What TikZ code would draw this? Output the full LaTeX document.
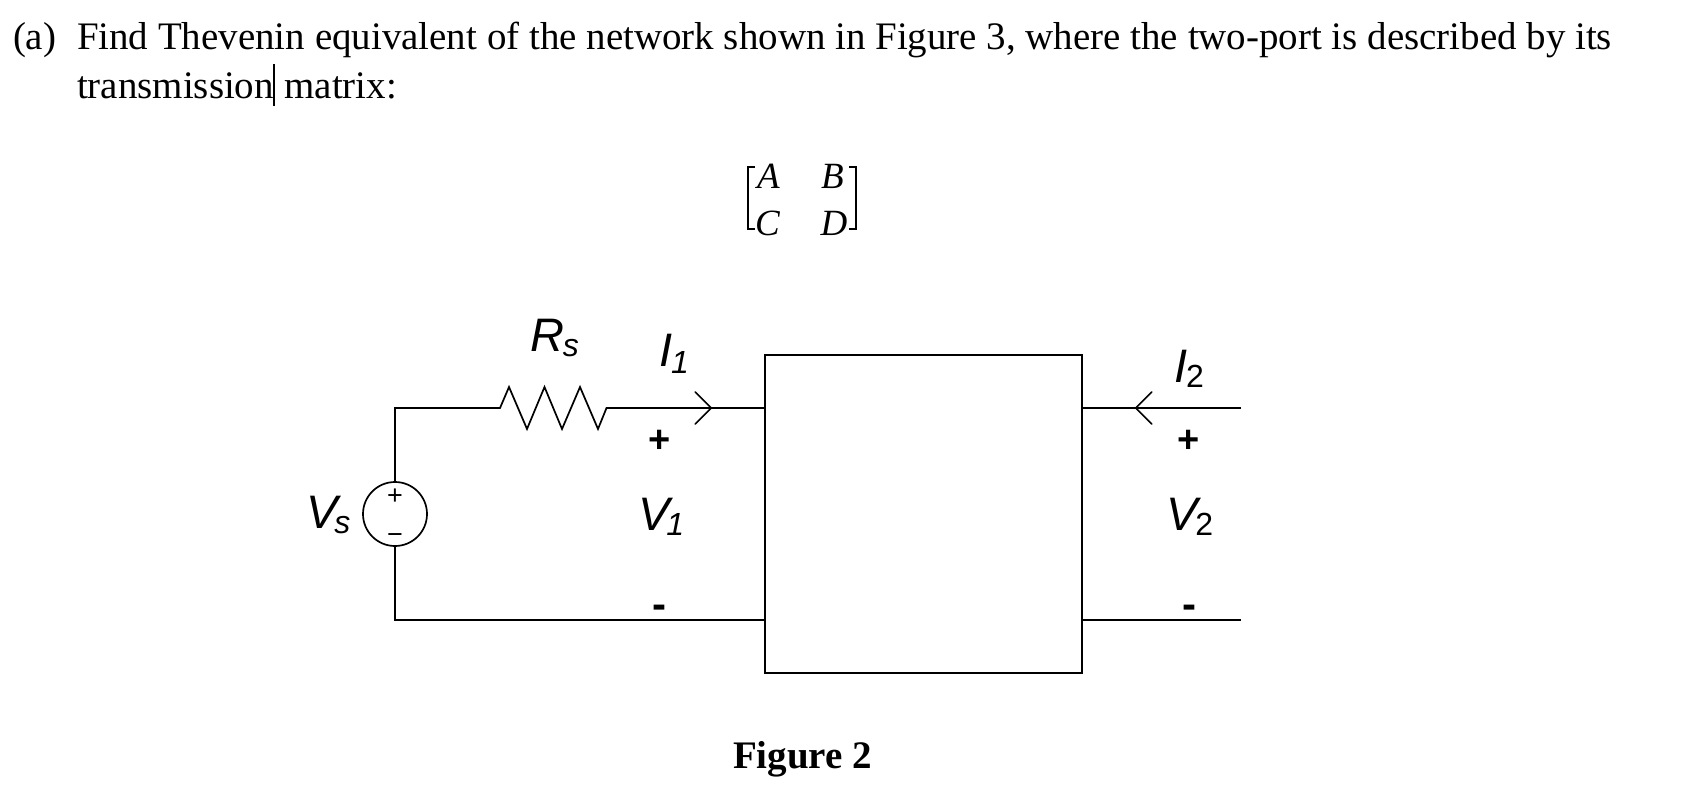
\documentclass[tikz,border=0pt]{standalone}
\usepackage{fontspec}
\usetikzlibrary{arrows.meta}
\setmainfont{Liberation Serif}
\newfontfamily\arialf{Liberation Sans}
\newcommand{\arialat}[1]{\fontsize{#1}{#1}\selectfont\arialf}
\newcommand{\serifat}[1]{\fontsize{#1}{#1}\selectfont\rmfamily}
\newcommand{\elabel}[3]{{\arialat{47}\itshape #1\hspace{#3}\raisebox{-5.5pt}{\arialat{32}#2}}}
\tikzset{
  wire/.style={line width=1.7pt,black,line cap=butt,line join=miter},
  txt/.style={inner sep=0pt,outer sep=0pt,anchor=base west,text=black},
  mid/.style={inner sep=0pt,outer sep=0pt,anchor=center,text=black},
  barb/.style={-{Straight Barb[length=16pt,width=32pt,line width=1.5pt,round]}},
  matl/.style={mid,font=\serifat{37}\itshape},
  port/.style={draw=black,line width=1.7pt,rectangle,inner sep=0pt,outer sep=0pt,minimum width=317pt,minimum height=318pt},
  src/.style={draw=black,line width=1.7pt,circle,inner sep=0pt,outer sep=0pt,minimum size=64pt},
}
\begin{document}
\begin{tikzpicture}[x=1pt,y=-1pt]
\useasboundingbox (0,0) rectangle (1707,803);
\fill[white] (0,0) rectangle (1707,803);

% question text
\node[txt,font=\serifat{38.95}] (qa) at (13,49) {(a)};
\node[txt,font=\serifat{38.95}] (q1) at (77,49) {Find Thevenin equivalent of the network shown in Figure 3, where the two-port is described by its};
\node[txt,font=\serifat{38.95}] (q2) at (77,98) {transmission};
\node[txt,font=\serifat{38.95}] (q3) at (284.5,98) {matrix:};
\coordinate (curt) at (274,64);
\coordinate (curb) at (274,105.5);
\draw[line width=2pt] (curt) -- (curb);

% matrix
\node[matl] (ma) at (768.5,176) {A};
\node[matl] (mb) at (832.5,176) {B};
\node[matl] (mc) at (767.5,223) {C};
\node[matl] (md) at (834,223) {D};
\coordinate (bl1) at (755,167); \coordinate (bl2) at (748,167); \coordinate (bl3) at (748,229); \coordinate (bl4) at (755,229);
\coordinate (br1) at (849,167); \coordinate (br2) at (856,167); \coordinate (br3) at (856,229); \coordinate (br4) at (849,229);
\draw[line width=1.9pt] (bl1) -- (bl2) -- (bl3) -- (bl4);
\draw[line width=1.9pt] (br1) -- (br2) -- (br3) -- (br4);

% two-port box and source
\node[port] (box) at (923.5,514) {};
\node[src] (vs) at (395,514) {};
\node[mid,font=\arialat{27}] (vsp) at (395,497) {+};
\node[mid,font=\arialat{27}] (vsm) at (395,539) {\textminus};

% circuit points
\coordinate (tl) at (395,408);
\coordinate (bl) at (395,620);
\coordinate (r0) at (500,408);
\coordinate (r1) at (509,387);
\coordinate (r2) at (527,429);
\coordinate (r3) at (544.5,387);
\coordinate (r4) at (562,429);
\coordinate (r5) at (580,387);
\coordinate (r6) at (598,429);
\coordinate (r7) at (606.5,408);
\coordinate (tip1) at (712,408);
\coordinate (in1) at (box.west |- tl);
\coordinate (in2) at (box.west |- bl);
\coordinate (out1) at (box.east |- tl);
\coordinate (out2) at (box.east |- bl);
\coordinate (end1) at (1241,408);
\coordinate (end2) at (1241,620);
\coordinate (tip2) at (1135,408);

\draw[wire] (vs.north) -- (tl) -- (r0) -- (r1) -- (r2) -- (r3) -- (r4) -- (r5) -- (r6) -- (r7) -- (in1);
\draw[wire] (vs.south) -- (bl) -- (in2);
\draw[wire] (out1) -- (end1);
\draw[wire] (out2) -- (end2);
\draw[wire,barb] (r7) -- (tip1);
\draw[wire,barb] (end1) -- (tip2);

% labels
\node[txt] (lrs) at (530,351) {\elabel{R}{s}{-1pt}};
\node[txt] (li1) at (659,366) {\elabel{I}{\raisebox{-1.5pt}{1}}{-1pt}};
\node[txt] (lvs) at (306,528) {\elabel{V}{s}{-3pt}};
\node[txt] (lv1) at (638,530) {\elabel{V}{1}{-3pt}};
\node[txt] (li2) at (1174,382) {\elabel{I}{\normalfont\arialf 2}{-1pt}};
\node[txt] (lv2) at (1166,530) {\elabel{V}{\normalfont\arialf 2}{-2pt}};
\node[mid,font=\arialat{38}\bfseries] (p1) at (660,441) {+};
\node[mid,font=\arialat{38}\bfseries] (p2) at (1189,441) {+};
\node[mid,font=\arialat{42}\bfseries] (m1) at (659,611.5) {-};
\node[mid,font=\arialat{42}\bfseries] (m2) at (1189,611.5) {-};

% caption
\node[txt,font=\serifat{39}\bfseries] (cap) at (733,768) {Figure 2};
\end{tikzpicture}
\end{document}
